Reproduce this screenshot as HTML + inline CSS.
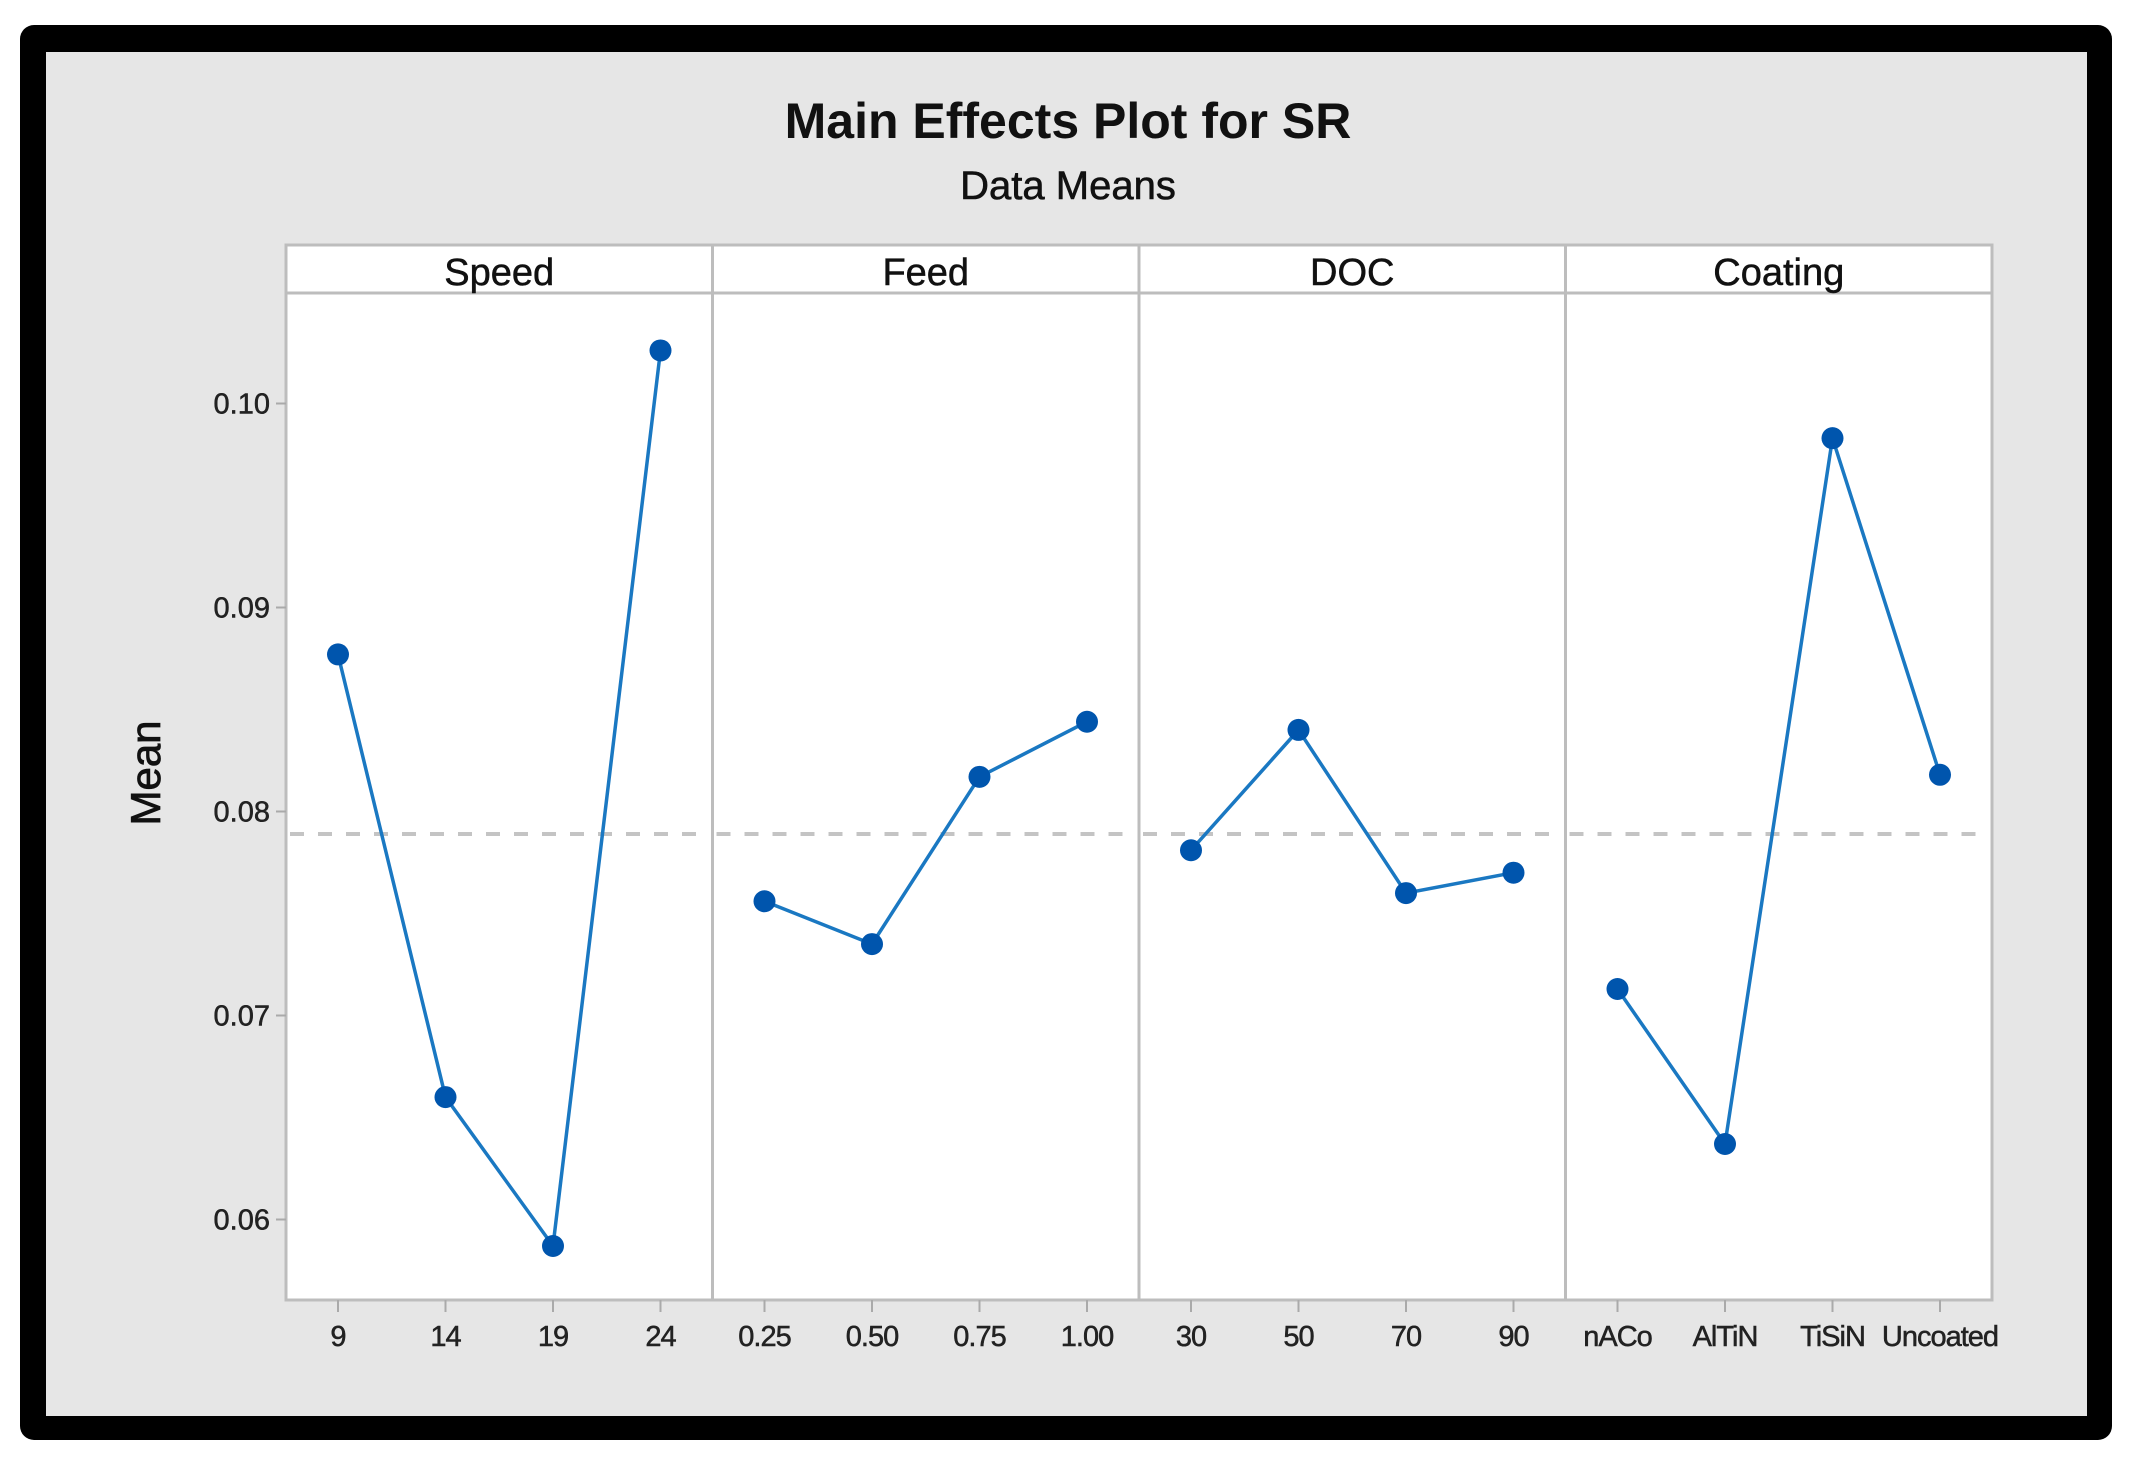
<!DOCTYPE html>
<html><head><meta charset="utf-8"><style>
html,body{margin:0;padding:0;background:#fff;}
svg{display:block;font-family:"Liberation Sans",sans-serif;}
</style></head><body>
<svg id="chart" width="2138" height="1463" viewBox="0 0 2138 1463">
<rect x="20" y="25" width="2092" height="1415" rx="14" fill="#000"/>
<rect x="46" y="52" width="2041" height="1364" fill="#e6e6e6"/>
<text x="1068" y="138" text-anchor="middle" font-size="50" font-weight="bold" fill="#111">Main Effects Plot for SR</text>
<text x="1068" y="199" text-anchor="middle" font-size="40" fill="#111" stroke="#111" stroke-width="0.6">Data Means</text>
<text transform="translate(160,773) rotate(-90)" text-anchor="middle" font-size="42" fill="#111" stroke="#111" stroke-width="0.8">Mean</text>
<g id="plot"></g>
</svg>
<script>
const panelNames = ["Speed","Feed","DOC","Coating"];
const speedLevels = ["9","14","19","24"];
const feedLevels = ["0.25","0.50","0.75","1.00"];
const docLevels = ["30","50","70","90"];
const coatingLevels = ["nACo","AlTiN","TiSiN","Uncoated"];
const speedMeans = [0.0877,0.0660,0.0587,0.1026];
const feedMeans = [0.0756,0.0735,0.0817,0.0844];
const docMeans = [0.0781,0.0840,0.0760,0.0770];
const coatingMeans = [0.0713,0.0637,0.0983,0.0818];
const grandMean = 0.0789;
const yTicks = [0.06,0.07,0.08,0.09,0.10];
const yTickLabels = ["0.06","0.07","0.08","0.09","0.10"];

const NS="http://www.w3.org/2000/svg";
const g=document.getElementById('plot');
const L=286,R=1992,T=245,SB=293,B=1300;
const PW=(R-L)/4;
const M=52;
function yScale(v){return 403.5+(0.10-v)*20400;}
function xScale(p,i){return L+p*PW+M+i*(PW-2*M)/3;}
function mk(tag,attrs){const e=document.createElementNS(NS,tag);for(const k in attrs)e.setAttribute(k,attrs[k]);g.appendChild(e);return e;}

let r=mk('rect',{x:L,y:T,width:R-L,height:B-T,fill:'#fff',stroke:'#bdbdbd','stroke-width':3});


let sl=mk('line',{x1:L,x2:R,y1:SB,y2:SB,stroke:'#bdbdbd','stroke-width':3});



const levels=[speedLevels,feedLevels,docLevels,coatingLevels];
const means=[speedMeans,feedMeans,docMeans,coatingMeans];

yTicks.forEach((v,i)=>{
  const y=yScale(v);
  let t=mk('line',{x1:L-10,x2:L,y1:y,y2:y,stroke:'#aaa','stroke-width':2});
  
  
  let tx=mk('text',{x:L-16,y:y+10,'text-anchor':'end','font-size':29,fill:'#222',stroke:'#222','stroke-width':0.5});
  tx.textContent=yTickLabels[i];
  
  
});

for(let p=0;p<4;p++){
  const x0=L+p*PW;
  if(p>0){
    let d=mk('line',{x1:x0,x2:x0,y1:T,y2:B,stroke:'#bdbdbd','stroke-width':3});
    
    
  }
  let st=mk('text',{x:x0+PW/2,y:SB-8,'text-anchor':'middle','font-size':38,fill:'#111',stroke:'#111','stroke-width':0.5});
  st.textContent=panelNames[p];
  
  
  const gy=yScale(grandMean);
  let ml=mk('line',{x1:x0+4,x2:x0+PW-4,y1:gy,y2:gy,stroke:'#c4c4c4','stroke-width':4,'stroke-dasharray':'14 14'});
  
  
  const pts=means[p].map((v,i)=>xScale(p,i)+','+yScale(v)).join(' ');
  let pl=mk('polyline',{points:pts,fill:'none',stroke:'#1a78c2','stroke-width':3.5});
  
  
  levels[p].forEach((lab,i)=>{
    const x=xScale(p,i);
    let tk=mk('line',{x1:x,x2:x,y1:B,y2:B+12,stroke:'#aaa','stroke-width':2});
    
    
    let tl=mk('text',{x:x,y:1346,'text-anchor':'middle','font-size':29,fill:'#222',stroke:'#222','stroke-width':0.5,'letter-spacing':'-1'});
    tl.textContent=lab;
    
    
    let c=mk('circle',{cx:x,cy:yScale(means[p][i]),r:11,fill:'#0055ad'});
    
    
  });
}
</script>
</body></html>
